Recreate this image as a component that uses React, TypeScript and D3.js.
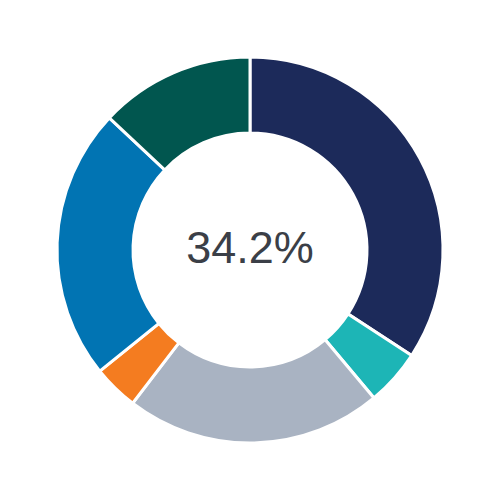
import React from 'react';
import * as d3 from 'd3';

const categories = ['Navy', 'Teal', 'Gray', 'Orange', 'Blue', 'Green'];
const values = [34.2, 4.7, 21.5, 3.8, 22.8, 13.0];
const colors = ['#1c2a5a', '#1db5b6', '#a9b3c2', '#f47c20', '#0174b3', '#01564f'];
const centerLabel = '34.2%';

const App = () => {
    const width = 500;
    const height = 500;
    const cx = 250;
    const cy = 250;

    const data = categories.map((c, i) => ({ category: c, value: values[i] }));

    const pie = d3.pie<{ category: string; value: number }>()
        .value(d => d.value)
        .sort(null);

    const arc = d3.arc<d3.PieArcDatum<{ category: string; value: number }>>()
        .innerRadius(117)
        .outerRadius(193);

    const color = d3.scaleOrdinal<string, string>().domain(categories).range(colors);

    return (
        <svg width={width} height={height} style={{ position: 'absolute', left: 0, top: 0 }}>
            <g transform={`translate(${cx},${cy})`}>
                {pie(data).map(d => (
                    <path
                        key={d.data.category}
                        d={arc(d) || ''}
                        fill={color(d.data.category)}
                        stroke="#fff"
                        strokeWidth={3}
                    />
                ))}
                <text
                    x={0}
                    y={13}
                    textAnchor="middle"
                    fontFamily="Liberation Sans, Arial, sans-serif"
                    fontSize={45}
                    fill="#3b3f47"
                >
                    {centerLabel}
                </text>
            </g>
        </svg>
    );
};

export default App;
